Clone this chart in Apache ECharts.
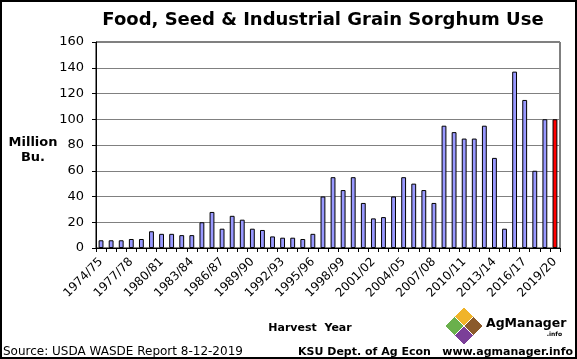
<!DOCTYPE html>
<html><head><meta charset="utf-8">
<script src="https://cdn.jsdelivr.net/npm/echarts@6/dist/echarts.min.js"></script>
<style>html,body{margin:0;padding:0;background:#fff}#c{width:577px;height:359px}</style>
</head><body><div id="c"></div>
<script>
const years = ["1974/75","1975/76","1976/77","1977/78","1978/79","1979/80","1980/81","1981/82","1982/83","1983/84","1984/85","1985/86","1986/87","1987/88","1988/89","1989/90","1990/91","1991/92","1992/93","1993/94","1994/95","1995/96","1996/97","1997/98","1998/99","1999/00","2000/01","2001/02","2002/03","2003/04","2004/05","2005/06","2006/07","2007/08","2008/09","2009/10","2010/11","2011/12","2012/13","2013/14","2014/15","2015/16","2016/17","2017/18","2018/19","2019/20"];
const fsiUse = [6,6,6,7,7,13,11,11,10,10,20,28,15,25,22,15,14,9,8,8,7,11,40,55,45,55,35,23,24,40,55,50,45,35,95,90,85,85,95,70,15,137,115,60,100,100];
const yTicks = [0,20,40,60,80,100,120,140,160];
const highlightYear = "2019/20";

const FONT = "DejaVu Sans";
const chart = echarts.init(document.getElementById('c'), null, {renderer:'canvas'});
const barData = fsiUse.map((v,i)=>({value:v, itemStyle: years[i]===highlightYear ? {color:'#ff0000'} : undefined}));

chart.setOption({
  animation:false,
  backgroundColor:'#fff',
  grid:{left:96,right:17,top:42,bottom:111,show:true,borderColor:'#000',borderWidth:1},
  xAxis:{
    type:'category', data:years, boundaryGap:true,
    axisLine:{lineStyle:{color:'#000',width:1}},
    axisTick:{show:true,alignWithLabel:false,interval:0,length:4,lineStyle:{color:'#000'}},
    axisLabel:{interval:2,rotate:45,fontFamily:FONT,fontSize:12,color:'#000',margin:12}
  },
  yAxis:{
    type:'value', min:yTicks[0], max:yTicks[yTicks.length-1], interval:20,
    axisLine:{show:true,lineStyle:{color:'#000'}},
    axisTick:{show:true,length:4,lineStyle:{color:'#000'}},
    axisLabel:{fontFamily:FONT,fontSize:13,color:'#000',margin:12},
    splitLine:{lineStyle:{color:'#808080',width:1}}
  },
  series:[{
    type:'bar', data:barData, barWidth:'48%',
    itemStyle:{color:'#9999ff',borderColor:'#000',borderWidth:1}
  }],
  graphic:[
    {type:'rect',shape:{x:1,y:1,width:575,height:357},style:{fill:'none',stroke:'#000',lineWidth:2}},
    {type:'text',x:323,y:20,style:{text:'Food, Seed & Industrial Grain Sorghum Use',font:'bold 18px "DejaVu Sans"',fill:'#000',textAlign:'center',textVerticalAlign:'middle'}},
    {type:'text',x:33,y:150,style:{text:'Million\nBu.',font:'bold 13px "DejaVu Sans"',fill:'#000',textAlign:'center',textVerticalAlign:'middle',lineHeight:15}},
    {type:'text',x:310,y:328,style:{text:'Harvest  Year',font:'bold 11px "DejaVu Sans"',fill:'#000',textAlign:'center',textVerticalAlign:'middle'}},
    {type:'text',x:3,y:352,style:{text:'Source: USDA WASDE Report 8-12-2019',font:'12px "DejaVu Sans"',fill:'#000',textAlign:'left',textVerticalAlign:'middle'}},
    {type:'text',x:573,y:352,style:{text:'KSU Dept. of Ag Econ   www.agmanager.info',font:'bold 11px "DejaVu Sans"',fill:'#000',textAlign:'right',textVerticalAlign:'middle'}},
    // logo
    {type:'polygon',shape:{points:[[464,307],[473.5,316.5],[464,326],[454.5,316.5]]},style:{fill:'#f0b429',stroke:'#fff',lineWidth:1}},
    {type:'polygon',shape:{points:[[454.5,316.5],[464,326],[454.5,335.5],[445,326]]},style:{fill:'#6ab04c',stroke:'#fff',lineWidth:1}},
    {type:'polygon',shape:{points:[[473.5,316.5],[483,326],[473.5,335.5],[464,326]]},style:{fill:'#8b5a2b',stroke:'#fff',lineWidth:1}},
    {type:'polygon',shape:{points:[[464,326],[473.5,335.5],[464,345],[454.5,335.5]]},style:{fill:'#7b3f98',stroke:'#fff',lineWidth:1}},
    {type:'text',x:486,y:324,style:{text:'AgManager',font:'bold 12.5px "DejaVu Sans"',fill:'#000',textAlign:'left',textVerticalAlign:'middle'}},
    {type:'text',x:562,y:334,style:{text:'.info',font:'bold 6px "DejaVu Sans"',fill:'#000',textAlign:'right',textVerticalAlign:'middle'}}
  ]
});
</script></body></html>
